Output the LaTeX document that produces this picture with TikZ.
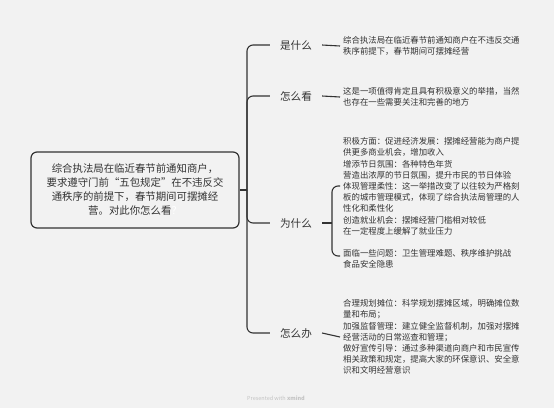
\documentclass[tikz,border=0pt]{standalone}
\usepackage{fontspec}
\setmainfont{Noto Sans CJK SC}
\definecolor{xmbg}{RGB}{242,242,242}
\definecolor{xmline}{RGB}{51,51,51}
\definecolor{xmtext}{RGB}{51,51,51}
\definecolor{xmfaint}{RGB}{195,195,195}
\usetikzlibrary{positioning}

\begin{document}
\begin{tikzpicture}[x=1pt,y=-1pt,
  topic/.style={draw=xmline,rounded corners=6pt,fill=xmbg,line width=1.2pt,minimum width=208pt,minimum height=76pt,align=center,font=\fontsize{10.4}{14}\selectfont,text=xmtext},
  branch/.style={inner xsep=10pt,inner ysep=2pt,font=\fontsize{10.6}{12}\selectfont,text=xmtext},
  note/.style={anchor=west,inner xsep=3pt,align=left,font=\fontsize{8.4}{11.2}\selectfont,text=xmtext},
  conn/.style={line width=1.1pt,color=xmline,rounded corners=6pt}
]
\fill[xmbg] (0,0) rectangle (554,408);
\useasboundingbox (0,0) rectangle (554,408);

\node[topic] (root) at (135,190) {综合执法局在临近春节前通知商户，\\要求遵守门前“五包规定”在不违反交\\通秩序的前提下，春节期间可摆摊经\\营。对此你怎么看\textcolor{white}{？}};
\coordinate (hub) at (247,190);

\node[branch] (what) at (296,45) {是什么};
\node[branch] (view) at (296,96) {怎么看};
\node[branch] (why) at (296,223) {为什么};
\node[branch] (how) at (296,333) {怎么办};

\node[note] (whatnote) at (340,46) {综合执法局在临近春节前通知商户在不违反交通\\秩序前提下，春节期间可摆摊经营};
\node[note] (viewnote) at (340,97) {这是一项值得肯定且具有积极意义的举措，当然\\也存在一些需要关注和完善的地方};
\node[note] (whynote) at (340,203) {积极方面：促进经济发展：摆摊经营能为商户提\\供更多商业机会，增加收入\\增添节日氛围：各种特色年货\\营造出浓厚的节日氛围，提升市民的节日体验\\体现管理柔性：这一举措改变了以往较为严格刻\\板的城市管理模式，体现了综合执法局管理的人\\性化和柔性化\\创造就业机会：摆摊经营门槛相对较低\\在一定程度上缓解了就业压力\\[11pt]面临一些问题：卫生管理难题、秩序维护挑战\\食品安全隐患};
\node[note] (hownote) at (340,337) {合理规划摊位：科学规划摆摊区域，明确摊位数\\量和布局；\\加强监督管理：建立健全监督机制，加强对摆摊\\经营活动的日常巡查和管理；\\做好宣传引导：通过多种渠道向商户和市民宣传\\相关政策和规定，提高大家的环保意识、安全意\\识和文明经营意识};

\coordinate (bracetop) at (340,186);
\coordinate (bracemid) at (332,223);
\coordinate (bracebot) at (340,256);

\node[font=\fontsize{5.5}{6}\selectfont,text=xmfaint] (credit) at (276,398) {Presented with \textbf{xmind}};

\draw[conn] (root.east) -- (hub);
\foreach \b in {what,view,why,how}
  \draw[conn] (hub) |- (\b.west);
\draw[conn] (what.east) -- (whatnote.west);
\draw[conn] (view.east) -- (viewnote.west);
\draw[conn] (how.east) -- (hownote.west);
\draw[conn] (why.east) -- (bracemid);
\draw[conn] (bracetop) -- (bracetop -| bracemid) -- (bracebot -| bracemid) -- (bracebot);
\end{tikzpicture}
\end{document}
